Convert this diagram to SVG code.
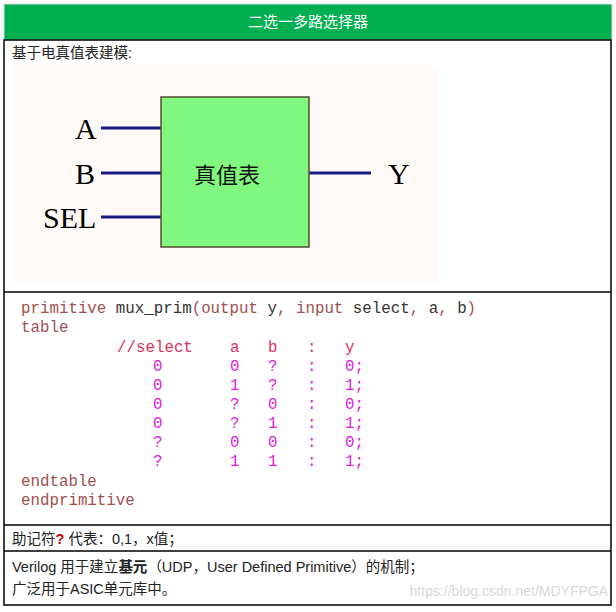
<svg xmlns="http://www.w3.org/2000/svg" width="616" height="612" viewBox="0 0 616 612">
<style>
.b{fill:none;stroke:#000;stroke-width:1.5}
.cn{font-family:"Liberation Sans","Noto Sans CJK SC",sans-serif;font-size:14.5px;fill:#222}
.c text{font-family:"Liberation Mono",monospace;font-size:15.8px;white-space:pre}
.k{fill:#a05050}.n{fill:#333}.r{fill:#e03060}.m{fill:#e020e0}
.w{stroke:#1a1a80;stroke-width:3}
.lb{font-family:"Liberation Serif",serif;font-size:30px;fill:#000}
</style>
<rect width="616" height="612" fill="#fff"/>
<g id="header"><rect x="4" y="4" width="608" height="36" fill="#00b050" stroke="#ddd"/>
<text x="308" y="23" text-anchor="middle" dominant-baseline="middle" font-family="Noto Sans CJK SC,sans-serif" font-size="15" fill="#fff">二选一多路选择器</text></g>
<g id="table">
<rect class="b" x="4" y="40" width="607" height="565"/>
<line class="b" x1="4" y1="292" x2="611" y2="292"/>
<line class="b" x1="4" y1="525" x2="611" y2="525"/>
<line class="b" x1="4" y1="551" x2="611" y2="551"/>
</g>
<text class="cn" x="12" y="58">基于电真值表建模:</text>
<g id="figure">
<rect x="12" y="66" width="425" height="216" fill="#fffaf8"/>
<g id="connectors">
<line class="w" x1="101" y1="128" x2="161" y2="128"/>
<line class="w" x1="101" y1="173" x2="161" y2="173"/>
<line class="w" x1="101" y1="217" x2="161" y2="217"/>
<line class="w" x1="309" y1="173" x2="371" y2="173"/>
</g>
<g id="box"><rect x="161" y="97" width="148" height="150" fill="#80f880" stroke="#5a4a30" stroke-width="1.5"/>
<text x="227" y="183" text-anchor="middle" font-family="Noto Sans CJK SC,sans-serif" font-size="22" fill="#111">真值表</text></g>
<text class="lb" x="75" y="139">A</text>
<text class="lb" x="75" y="184">B</text>
<text class="lb" x="43" y="228">SEL</text>
<text class="lb" x="388" y="184">Y</text>
</g>
<g id="code" class="c">
<text x="21" y="313"><tspan class="k">primitive</tspan><tspan class="n"> mux_prim</tspan><tspan class="k">(output</tspan><tspan class="n"> y</tspan><tspan class="k">, input</tspan><tspan class="n"> select</tspan><tspan class="k">, </tspan><tspan class="n">a</tspan><tspan class="k">, </tspan><tspan class="n">b</tspan><tspan class="k">)</tspan></text>
<text x="21" y="332" class="k">table</text>
<text y="352" class="r"><tspan x="117">//select</tspan><tspan x="230">a</tspan><tspan x="268">b</tspan><tspan x="307">:</tspan><tspan x="345">y</tspan></text>
<text y="371" class="m"><tspan x="153">0</tspan><tspan x="230">0</tspan><tspan x="268">?</tspan><tspan x="307">:</tspan><tspan x="345">0;</tspan></text>
<text y="390" class="m"><tspan x="153">0</tspan><tspan x="230">1</tspan><tspan x="268">?</tspan><tspan x="307">:</tspan><tspan x="345">1;</tspan></text>
<text y="409" class="m"><tspan x="153">0</tspan><tspan x="230">?</tspan><tspan x="268">0</tspan><tspan x="307">:</tspan><tspan x="345">0;</tspan></text>
<text y="428" class="m"><tspan x="153">0</tspan><tspan x="230">?</tspan><tspan x="268">1</tspan><tspan x="307">:</tspan><tspan x="345">1;</tspan></text>
<text y="447" class="m"><tspan x="153">?</tspan><tspan x="230">0</tspan><tspan x="268">0</tspan><tspan x="307">:</tspan><tspan x="345">0;</tspan></text>
<text y="466" class="m"><tspan x="153">?</tspan><tspan x="230">1</tspan><tspan x="268">1</tspan><tspan x="307">:</tspan><tspan x="345">1;</tspan></text>
<text x="21" y="486" class="k">endtable</text>
<text x="21" y="505" class="k">endprimitive</text>
</g>
<text class="cn" x="12" y="544">助记符<tspan fill="#c00000" font-weight="bold">?</tspan> 代表：0,1，x值；</text>
<text class="cn" x="12" y="572">Verilog 用于建立<tspan font-weight="bold">基元</tspan>（UDP，User Defined Primitive）的机制；</text>
<text class="cn" x="12" y="594">广泛用于ASIC单元库中。</text>
<text x="608" y="596" text-anchor="end" font-family="Liberation Sans,sans-serif" font-size="14" fill="#d8d8d8">https://blog.csdn.net/MDYFPGA</text>
</svg>
